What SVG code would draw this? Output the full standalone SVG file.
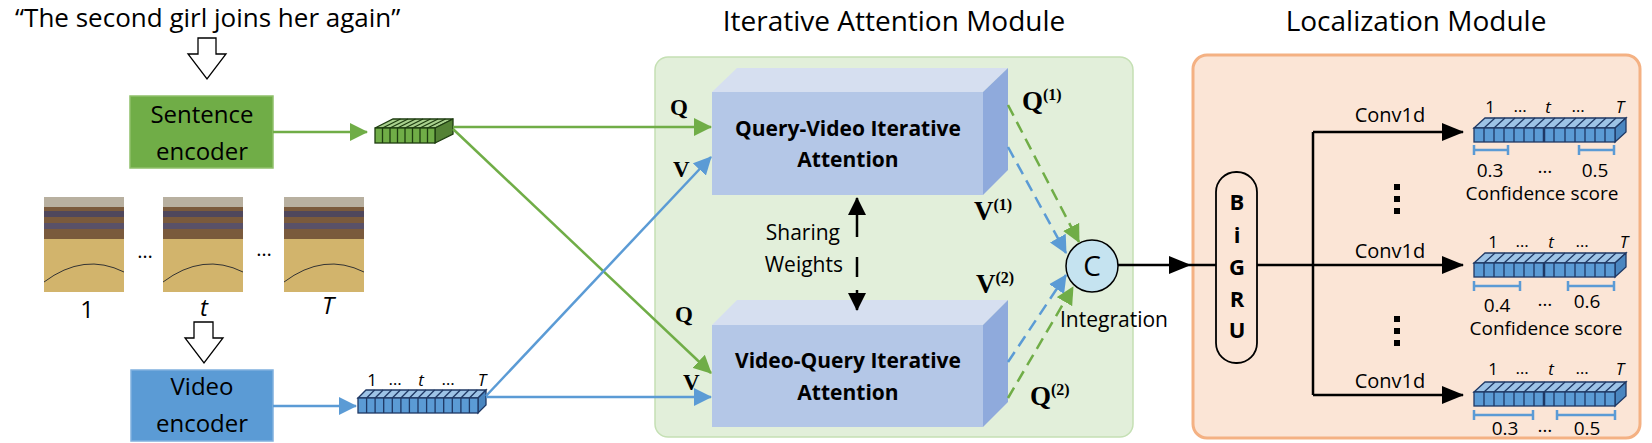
<svg xmlns="http://www.w3.org/2000/svg" xmlns:xlink="http://www.w3.org/1999/xlink" width="1652" height="443" viewBox="0 0 1652 443">
<style>
.t{font-family:"Open Sans","Liberation Sans",sans-serif;fill:#000}
.b{font-family:"Open Sans","Liberation Sans",sans-serif;font-weight:bold;fill:#000}
.s{font-family:"Liberation Serif",serif;font-weight:bold;fill:#000}
.gl{stroke:#70ad47;stroke-width:2.5;fill:none}
.bl{stroke:#5b9bd5;stroke-width:2.5;fill:none}
.k{stroke:#000;stroke-width:2.5;fill:none}
.cell{stroke:#1f3864;stroke-width:1.3}
</style>
<defs>
<marker id="ag" markerWidth="10" markerHeight="10" refX="9" refY="5" orient="auto" markerUnits="userSpaceOnUse" viewBox="0 0 10 10"><path d="M0,0L10,5L0,10z" fill="#70ad47"/></marker>
<marker id="ag2" markerWidth="18" markerHeight="18" refX="17" refY="9" orient="auto" markerUnits="userSpaceOnUse" viewBox="0 0 18 18"><path d="M0,0L18,9L0,18z" fill="#70ad47"/></marker>
<marker id="ab2" markerWidth="18" markerHeight="18" refX="17" refY="9" orient="auto" markerUnits="userSpaceOnUse" viewBox="0 0 18 18"><path d="M0,0L18,9L0,18z" fill="#5b9bd5"/></marker>
<marker id="ak" markerWidth="22" markerHeight="18" refX="21" refY="9" orient="auto" markerUnits="userSpaceOnUse" viewBox="0 0 22 18"><path d="M0,0L22,9L0,18z" fill="#000"/></marker>
<marker id="ak2" markerWidth="18" markerHeight="18" refX="17" refY="9" orient="auto" markerUnits="userSpaceOnUse" viewBox="0 0 18 18"><path d="M0,0L18,9L0,18z" fill="#000"/></marker>
<g id="rbar">
<path d="M0,0L11,-10L152,-10L141,0z" fill="#9dc3e6" stroke="#1f3864" stroke-width="1.3"/>
<path d="M141,0L152,-10L152,4L141,14z" fill="#4a86c0" stroke="#1f3864" stroke-width="1.3"/>
<rect x="0" y="0" width="141" height="14" fill="#5b9bd5" stroke="#1f3864" stroke-width="1.3"/>
<path class="cell" d="M10,0v14M20,0v14M30,0v14M40,0v14M50,0v14M60,0v14M70,0v14M80,0v14M91,0v14M101,0v14M111,0v14M121,0v14M131,0v14M10,0l11,-10M20,0l11,-10M30,0l11,-10M40,0l11,-10M50,0l11,-10M60,0l11,-10M70,0l11,-10M80,0l11,-10M91,0l11,-10M101,0l11,-10M111,0l11,-10M121,0l11,-10M131,0l11,-10"/>
<path d="M70,0v14" stroke="#1f3864" stroke-width="2.5"/>
</g>
<g id="photo">
<rect width="80" height="95" fill="#c9a85c"/>
<rect width="80" height="42" fill="#7a5a3c"/>
<rect y="0" width="80" height="10" fill="#b8b0a0"/>
<rect y="14" width="80" height="6" fill="#3d3f6a" opacity="0.7"/>
<rect y="26" width="80" height="6" fill="#4b4d7a" opacity="0.7"/>
<rect y="42" width="80" height="53" fill="#d2b46c"/>
<path d="M0,85Q40,55 80,75" stroke="#333" stroke-width="1" fill="none"/>
</g>
</defs>

<rect width="1652" height="443" fill="#fff"/>

<!-- module backgrounds -->
<g id="iam-module">
<rect x="655" y="57" width="478" height="380" rx="13" fill="#e2efda" stroke="#c5e0b4" stroke-width="1.5"/>
<text class="t" x="894" y="31" font-size="28" text-anchor="middle">Iterative Attention Module</text>
</g>
<g id="loc-module">
<rect x="1193" y="55" width="447" height="383" rx="14" fill="#fbe5d6" stroke="#f4b183" stroke-width="3"/>
<text class="t" x="1416" y="31" font-size="28" text-anchor="middle">Localization Module</text>
</g>

<!-- left inputs -->
<g id="sentence">
<text class="t" x="15" y="27" font-size="26">“The second girl joins her again”</text>
<path d="M198,38H216V54H226L207,79L188,54H198z" fill="#fff" stroke="#000" stroke-width="1.3"/>
</g>
<g id="sentence-encoder">
<rect x="130" y="96" width="143" height="72" fill="#70ad47" stroke="#8fc06a" stroke-width="1.5"/>
<text class="t" x="202" y="123" font-size="24" text-anchor="middle">Sentence</text>
<text class="t" x="202" y="160" font-size="24" text-anchor="middle">encoder</text>
</g>
<g id="frames">
<use xlink:href="#photo" x="44" y="197"/>
<use xlink:href="#photo" x="163" y="197"/>
<use xlink:href="#photo" x="284" y="197"/>
<text class="t" x="145" y="258" font-size="20" text-anchor="middle">…</text>
<text class="t" x="264" y="256" font-size="20" text-anchor="middle">…</text>
<text class="t" x="87" y="318" font-size="24" text-anchor="middle">1</text>
<text class="t" x="204" y="316" font-size="24" font-style="italic" text-anchor="middle">t</text>
<text class="t" x="328" y="314" font-size="24" font-style="italic" text-anchor="middle">T</text>
<path d="M194,322H213V338H223L204,363L185,338H194z" fill="#fff" stroke="#000" stroke-width="1.3"/>
</g>
<g id="video-encoder">
<rect x="131" y="370" width="142" height="71" fill="#5b9bd5" stroke="#7fb0de" stroke-width="1.5"/>
<text class="t" x="202" y="395" font-size="24" text-anchor="middle">Video</text>
<text class="t" x="202" y="432" font-size="24" text-anchor="middle">encoder</text>
</g>
<g id="sentence-feature">
<path d="M375,128L393,119L453,119L435,128z" fill="#a9d18e" stroke="#1e3d10" stroke-width="1.3"/>
<path d="M435,128L453,119L453,134L435,143z" fill="#548235" stroke="#1e3d10" stroke-width="1.3"/>
<rect x="375" y="128" width="60" height="15" fill="#70ad47" stroke="#1e3d10" stroke-width="1.3"/>
<path stroke="#1e3d10" stroke-width="1.3" d="M382.5,128v15M390,128v15M397.5,128v15M405,128v15M412.5,128v15M420,128v15M427.5,128v15M382.5,128l18,-9M390,128l18,-9M397.5,128l18,-9M405,128l18,-9M412.5,128l18,-9M420,128l18,-9M427.5,128l18,-9"/>
</g>
<g id="video-feature">
<path d="M358,398L366,390L486,390L478,398z" fill="#9dc3e6" stroke="#1f3864" stroke-width="1.3"/>
<path d="M478,398L486,390L486,405L478,413z" fill="#4a86c0" stroke="#1f3864" stroke-width="1.3"/>
<rect x="358" y="398" width="120" height="15" fill="#5b9bd5" stroke="#1f3864" stroke-width="1.3"/>
<path class="cell" d="M366.6,398v15M375.1,398v15M383.7,398v15M392.3,398v15M400.9,398v15M409.4,398v15M418,398v15M426.6,398v15M435.1,398v15M443.7,398v15M452.3,398v15M460.9,398v15M469.4,398v15M366.6,398l8,-8M375.1,398l8,-8M383.7,398l8,-8M392.3,398l8,-8M400.9,398l8,-8M409.4,398l8,-8M418,398l8,-8M426.6,398l8,-8M435.1,398l8,-8M443.7,398l8,-8M452.3,398l8,-8M460.9,398l8,-8M469.4,398l8,-8"/>
<text class="t" x="372" y="386" font-size="17" text-anchor="middle">1</text>
<text class="t" x="395" y="385" font-size="17" text-anchor="middle">…</text>
<text class="t" x="421" y="386" font-size="17" font-style="italic" text-anchor="middle">t</text>
<text class="t" x="448" y="385" font-size="17" text-anchor="middle">…</text>
<text class="t" x="482" y="386" font-size="17" font-style="italic" text-anchor="middle">T</text>
</g>

<!-- attention blocks -->
<g id="qv-attention">
<path d="M712,92L737,68L1008,68L983,92z" fill="#d6dff0"/>
<path d="M983,92L1008,68L1008,170L983,195z" fill="#8faadc"/>
<rect x="712" y="92" width="271" height="103" fill="#b4c7e7"/>
<text class="b" x="848" y="136" font-size="21" text-anchor="middle">Query-Video Iterative</text>
<text class="b" x="848" y="167" font-size="21" text-anchor="middle">Attention</text>
</g>
<g id="vq-attention">
<path d="M712,325L737,300L1008,300L983,325z" fill="#d6dff0"/>
<path d="M983,325L1008,300L1008,402L983,427z" fill="#8faadc"/>
<rect x="712" y="325" width="271" height="102" fill="#b4c7e7"/>
<text class="b" x="848" y="368" font-size="21" text-anchor="middle">Video-Query Iterative</text>
<text class="b" x="848" y="400" font-size="21" text-anchor="middle">Attention</text>
</g>
<g id="integration">
<circle cx="1092" cy="266" r="26" fill="#c5e3f0" stroke="#000" stroke-width="1.5"/>
<text class="t" x="1092" y="276" font-size="28" text-anchor="middle">C</text>
<text class="t" x="1060" y="327" font-size="21">Integration</text>
</g>
<g id="bigru">
<rect x="1216" y="172" width="41" height="191" rx="20" fill="none" stroke="#000" stroke-width="1.8"/>
<text class="b" x="1237" y="210" font-size="22" text-anchor="middle">B</text>
<text class="b" x="1237" y="243" font-size="22" text-anchor="middle">i</text>
<text class="b" x="1237" y="275" font-size="22" text-anchor="middle">G</text>
<text class="b" x="1237" y="307" font-size="22" text-anchor="middle">R</text>
<text class="b" x="1237" y="338" font-size="22" text-anchor="middle">U</text>
</g>
<g id="outputs">
<use xlink:href="#rbar" x="1474" y="128"/>
<use xlink:href="#rbar" x="1474" y="263"/>
<use xlink:href="#rbar" x="1474" y="392"/>
<g class="t" font-size="17" text-anchor="middle">
<text x="1490" y="113">1</text><text x="1520" y="112">…</text><text x="1548" y="113" font-style="italic">t</text><text x="1578" y="112">…</text><text x="1620" y="113" font-style="italic">T</text>
<text x="1493" y="248">1</text><text x="1522" y="247">…</text><text x="1551" y="248" font-style="italic">t</text><text x="1582" y="247">…</text><text x="1624" y="248" font-style="italic">T</text>
<text x="1493" y="375">1</text><text x="1522" y="374">…</text><text x="1551" y="375" font-style="italic">t</text><text x="1582" y="374">…</text><text x="1620" y="375" font-style="italic">T</text>
</g>
<path stroke="#5b9bd5" stroke-width="2.5" fill="none" d="M1474,150H1508M1474,145v10M1508,145v10M1579,150H1614M1579,145v10M1614,145v10M1474,286H1520M1474,281v10M1520,281v10M1568,286H1614M1568,281v10M1614,281v10M1474,415H1533M1474,410v10M1533,410v10M1557,415H1615M1557,410v10M1615,410v10"/>
<g class="t" font-size="19" text-anchor="middle">
<text x="1490" y="177">0.3</text><text x="1545" y="173">…</text><text x="1595" y="177">0.5</text>
<text x="1542" y="200">Confidence score</text>
<text x="1497" y="312">0.4</text><text x="1545" y="306">…</text><text x="1587" y="308">0.6</text>
<text x="1546" y="335">Confidence score</text>
<text x="1505" y="435">0.3</text><text x="1545" y="432">…</text><text x="1587" y="435">0.5</text>
</g>
<g fill="#000"><rect x="1394" y="184" width="6" height="6"/><rect x="1394" y="196" width="6" height="6"/><rect x="1394" y="208" width="6" height="6"/>
<rect x="1394" y="316" width="6" height="6"/><rect x="1394" y="328" width="6" height="6"/><rect x="1394" y="340" width="6" height="6"/></g>
<g class="t" font-size="20" text-anchor="middle"><text x="1390" y="122">Conv1d</text><text x="1390" y="258">Conv1d</text><text x="1390" y="388">Conv1d</text></g>
</g>

<!-- labels -->
<g id="labels" class="s">
<text x="670" y="115" font-size="23">Q</text>
<text x="673" y="177" font-size="23">V</text>
<text x="675" y="322" font-size="23">Q</text>
<text x="683" y="390" font-size="23">V</text>
<text x="1022" y="110" font-size="27">Q<tspan font-size="16" dy="-10">(1)</tspan></text>
<text x="974" y="220" font-size="27">V<tspan font-size="16" dy="-10">(1)</tspan></text>
<text x="976" y="293" font-size="27">V<tspan font-size="16" dy="-10">(2)</tspan></text>
<text x="1030" y="405" font-size="27">Q<tspan font-size="16" dy="-10">(2)</tspan></text>
</g>
<g id="sharing">
<text class="t" x="840" y="240" font-size="21" text-anchor="end">Sharing</text>
<text class="t" x="843" y="272" font-size="21" text-anchor="end">Weights</text>
</g>

<!-- connectors -->
<g id="connectors">
<path class="gl" d="M273,132H367" marker-end="url(#ag2)"/>
<path class="bl" d="M273,406H356" marker-end="url(#ab2)"/>
<path class="gl" d="M453,127H711" marker-end="url(#ag2)"/>
<path class="gl" d="M453,129L711,373" marker-end="url(#ag2)"/>
<path class="bl" d="M486,396L711,157" marker-end="url(#ab2)"/>
<path class="bl" d="M486,397H711" marker-end="url(#ab2)"/>
<path class="gl" d="M1008,105L1079,242" stroke-dasharray="12,7" marker-end="url(#ag2)"/>
<path class="bl" d="M1008,147L1066,253" stroke-dasharray="12,7" marker-end="url(#ab2)"/>
<path class="bl" d="M1008,362L1066,275" stroke-dasharray="12,7" marker-end="url(#ab2)"/>
<path class="gl" d="M1008,398L1073,287" stroke-dasharray="12,7" marker-end="url(#ag2)"/>
<path class="k" d="M857,237V198" marker-end="url(#ak2)"/>
<path class="k" d="M857,257V277"/>
<path class="k" d="M857,290V310" marker-end="url(#ak2)"/>
<path class="k" d="M1118,265H1190" marker-end="url(#ak)"/>
<path class="k" d="M1190,265H1216"/>
<path class="k" d="M1257,265H1463" marker-end="url(#ak)"/>
<path class="k" d="M1313,132V395"/>
<path class="k" d="M1313,132H1463" marker-end="url(#ak)"/>
<path class="k" d="M1313,395H1463" marker-end="url(#ak)"/>
</g>
</svg>
